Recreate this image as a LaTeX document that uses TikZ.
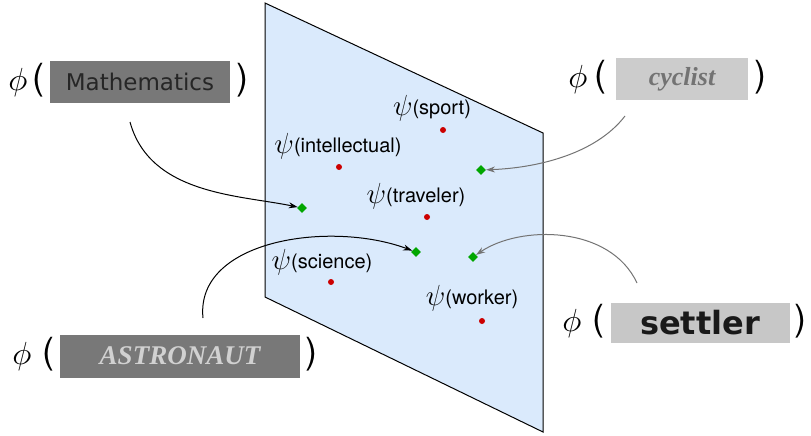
\documentclass[tikz,border=0pt]{standalone}
\usepackage{fontspec}
\setmainfont{TeX Gyre Heros}
\newfontfamily\serifw{Liberation Serif}
\newfontfamily\sansw{DejaVu Sans}
\usetikzlibrary{arrows.meta,shapes.geometric}
\definecolor{plane}{RGB}{218,234,252}
\begin{document}
\begin{tikzpicture}[x=1pt,y=-1pt,
  rdot/.style={circle,fill=red!80!black,inner sep=0,minimum size=6pt},
  gdot/.style={diamond,fill=green!65!black,inner sep=0,minimum size=10pt},
  lab/.style={font=\fontsize{20}{20}\selectfont,anchor=base,inner sep=0},
  phi/.style={scale=3.2,anchor=center,inner sep=0},
  par/.style={font=\fontsize{36}{36}\selectfont,anchor=center,inner sep=0},
  word/.style={inner sep=0,anchor=center},
  arr/.style={-{Stealth[length=9pt,width=6pt]},line width=1pt}]
\newcommand{\psis}{\raisebox{-1pt}{\scalebox{1.4}{$\psi$}}}
\useasboundingbox (0,0) rectangle (811,436);
\fill[plane,draw=black,line width=1pt] (265,3) -- (543,133) -- (543,432) -- (265,297) -- cycle;
% word boxes
\node[word,fill=black!53,minimum width=180pt,minimum height=41pt,font=\sansw\fontsize{23}{23}\selectfont,text=black!85] (wm) at (140,82) {Mathematics};
\node[phi] at (18,82) {$\phi$}; \node[par] at (38,80) {(}; \node[par] at (242,80) {)};
\node[word,fill=black!20,minimum width=132pt,minimum height=42pt,font=\serifw\itshape\bfseries\fontsize{26}{26}\selectfont,text=black!55] (wc) at (682,79) {cyclist};
\node[phi] at (578,79) {$\phi$}; \node[par] at (600,77) {(}; \node[par] at (760,77) {)};
\node[word,fill=black!22,minimum width=179pt,minimum height=40pt,font=\sansw\bfseries\fontsize{32}{32}\selectfont,text=black!90] (ws) at (700,323) {settler};
\node[phi] at (572,323) {$\phi$}; \node[par] at (598,321) {(}; \node[par] at (800,321) {)};
\node[word,fill=black!53,minimum width=240pt,minimum height=43pt,font=\serifw\bfseries\itshape\fontsize{27}{27}\selectfont,text=black!18] (wa) at (180,356) {ASTRONAUT};
\node[phi] at (22,356) {$\phi$}; \node[par] at (48,354) {(}; \node[par] at (311,354) {)};
% red points
\node[rdot] (p1) at (443,130) {}; \node[lab] at (432,114) {\psis(sport)};
\node[rdot] (p2) at (339,167) {}; \node[lab] at (338,152) {\psis(intellectual)};
\node[rdot] (p3) at (427,217) {}; \node[lab] at (416,202) {\psis(traveler)};
\node[rdot] (p4) at (331,282) {}; \node[lab] at (322,268) {\psis(science)};
\node[rdot] (p5) at (482,321) {}; \node[lab] at (472,304) {\psis(worker)};
% green points
\node[gdot] (g1) at (302,208) {};
\node[gdot] (g2) at (481,170) {};
\node[gdot] (g3) at (416,252) {};
\node[gdot] (g4) at (473,257) {};
\coordinate (sm) at (130,122); \coordinate (sc) at (625,116);
\coordinate (sa) at (203,318); \coordinate (ss) at (637,283);
\draw[arr,black] (sm) .. controls (150,195) and (240,195) .. (g1);
\draw[arr,black!55] (sc) .. controls (595,155) and (535,168) .. (g2);
\draw[arr,black] (sa) .. controls (195,240) and (330,220) .. (g3);
\draw[arr,black!55] (ss) .. controls (610,225) and (520,225) .. (g4);
\end{tikzpicture}
\end{document}
